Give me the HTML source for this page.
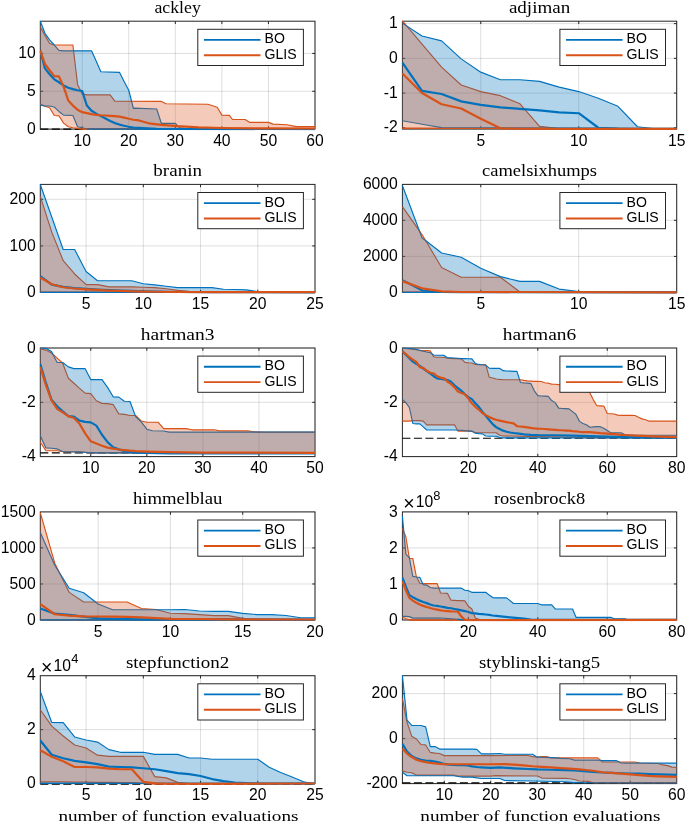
<!DOCTYPE html><html><head><meta charset="utf-8"><title>BO vs GLIS</title>
<style>html,body{margin:0;padding:0;background:#fff}svg{display:block}.t{font-family:"Liberation Sans",sans-serif;font-size:15.7px;fill:#000}.s{font-family:"Liberation Serif",serif;font-size:16.3px;fill:#000}.x{font-family:"Liberation Serif",serif;font-size:14.9px;fill:#000}.l{font-family:"Liberation Sans",sans-serif;font-size:14.1px;fill:#000}</style></head><body>
<svg width="685" height="821" viewBox="0 0 685 821">
<rect width="685" height="821" fill="#fff"/>
<clipPath id="c0"><rect x="39.7" y="20.6" width="275.9" height="109.9"/></clipPath>
<g>
<path d="M82.2 21.2V129.1M128.76 21.2V129.1M175.32 21.2V129.1M221.88 21.2V129.1M268.44 21.2V129.1M315 21.2V129.1M40.3 129.1H315M40.3 91.27H315M40.3 53.43H315" stroke="#000" stroke-opacity="0.13" stroke-width="1" fill="none"/>
<path d="M82.2 129.1v-2.8M82.2 21.2v2.8M128.76 129.1v-2.8M128.76 21.2v2.8M175.32 129.1v-2.8M175.32 21.2v2.8M221.88 129.1v-2.8M221.88 21.2v2.8M268.44 129.1v-2.8M268.44 21.2v2.8M40.3 91.27h2.8M315 91.27h-2.8M40.3 53.43h2.8M315 53.43h-2.8" stroke="#262626" stroke-width="1" fill="none"/>
<rect x="40.3" y="21.2" width="274.7" height="107.9" fill="none" stroke="#262626" stroke-width="1"/>
<g clip-path="url(#c0)">
<path d="M40.3 129.1H315" stroke="#000" stroke-width="1.2" stroke-dasharray="8 3.5" fill="none"/>
<path d="M40.3 26.76 L44.96 35.52 L49.61 43.55 L54.27 45.01 L72.89 45.01 L77.55 84.42 L82.2 93.91 L86.86 94.93 L110.14 94.93 L114.79 101.21 L161.35 101.4 L166.01 103.7 L207.91 104.3 L217.23 107.2 L221.88 115.1 L229.33 115.4 L232.59 119.5 L245.16 119.5 L249.82 122.4 L268.44 122.4 L273.1 124.1 L287.06 124.7 L296.38 126.6 L315 126.6" fill="none" stroke="#D95319" stroke-width="1.15" stroke-linejoin="round"/>
<path d="M40.3 104.13 L44.96 106.32 L49.61 107.78 L54.27 115.52 L58.92 115.81 L63.58 123.11 L68.24 126.76 L72.89 127.78 L77.55 128.36 L82.2 128.95 L86.86 129.1 L315 129.1" fill="none" stroke="#D95319" stroke-width="1.15" stroke-linejoin="round"/>
<path d="M40.3 21.21 L44.96 33.33 L49.61 39.9 L54.27 45.01 L58.92 50.41 L63.58 50.85 L91.52 50.85 L96.17 61.07 L100.83 71.72 L119.45 72.31 L124.11 81.5 L128.76 90.26 L133.42 108.51 L134.82 108.1 L156.7 109 L161.35 123.3 L175.32 123.3 L179.98 127.8 L189.29 129.1 L315 129.1" fill="none" stroke="#0072BD" stroke-width="1.15" stroke-linejoin="round"/>
<path d="M40.3 105.15 L44.96 106.03 L49.61 106.03 L54.27 107.05 L58.92 111.43 L63.58 115.08 L72.89 115.52 L77.55 126.76 L82.2 127.78 L86.86 128.95 L91.52 129.1 L315 129.1" fill="none" stroke="#0072BD" stroke-width="1.15" stroke-linejoin="round"/>
<path d="M40.3 21.21 L44.96 33.33 L49.61 39.9 L54.27 45.01 L58.92 50.41 L63.58 50.85 L91.52 50.85 L96.17 61.07 L100.83 71.72 L119.45 72.31 L124.11 81.5 L128.76 90.26 L133.42 108.51 L134.82 108.1 L156.7 109 L161.35 123.3 L175.32 123.3 L179.98 127.8 L189.29 129.1 L315 129.1 L315 129.1 L91.52 129.1 L86.86 128.95 L82.2 127.78 L77.55 126.76 L72.89 115.52 L63.58 115.08 L58.92 111.43 L54.27 107.05 L49.61 106.03 L44.96 106.03 L40.3 105.15Z" fill="#0072BD" fill-opacity="0.3" stroke="none"/>
<path d="M40.3 26.76 L44.96 35.52 L49.61 43.55 L54.27 45.01 L72.89 45.01 L77.55 84.42 L82.2 93.91 L86.86 94.93 L110.14 94.93 L114.79 101.21 L161.35 101.4 L166.01 103.7 L207.91 104.3 L217.23 107.2 L221.88 115.1 L229.33 115.4 L232.59 119.5 L245.16 119.5 L249.82 122.4 L268.44 122.4 L273.1 124.1 L287.06 124.7 L296.38 126.6 L315 126.6 L315 129.1 L86.86 129.1 L82.2 128.95 L77.55 128.36 L72.89 127.78 L68.24 126.76 L63.58 123.11 L58.92 115.81 L54.27 115.52 L49.61 107.78 L44.96 106.32 L40.3 104.13Z" fill="#D95319" fill-opacity="0.3" stroke="none"/>
<path d="M77.55 128.36 L82.2 128.95 L86.86 129.1 L315 129.1" fill="none" stroke="#D95319" stroke-width="1.15"/>
<path d="M86.86 128.95 L91.52 129.1 L315 129.1" fill="none" stroke="#0072BD" stroke-width="1.15"/>
<path d="M189.29 129.1 L315 129.1" fill="none" stroke="#0072BD" stroke-width="1.15"/>
<path d="M40.3 50.85 L44.96 68.36 L49.61 74.2 L54.27 79.31 L58.92 82.23 L63.58 85.45 L68.24 87.78 L72.89 89.09 L77.55 90.26 L82.2 90.99 L86.86 105.59 L91.52 110.7 L96.17 113.62 L100.83 116.1 L105.48 118.44 L110.14 120.92 L114.79 123.11 L119.45 124.57 L124.11 125.74 L128.76 126.76 L133.42 127.49 L138.07 127.78 L147.39 128.4 L156.7 128.9 L315 129.1" fill="none" stroke="#0072BD" stroke-width="2.2" stroke-linejoin="round"/>
<path d="M40.3 50.85 L44.96 63.99 L49.61 70.26 L54.27 76.1 L58.92 76.39 L63.58 86.61 L68.24 100.48 L72.89 105.59 L77.55 109.68 L82.2 112.16 L86.86 113.18 L91.52 114.06 L96.17 114.79 L100.83 115.23 L105.48 115.52 L110.14 115.81 L114.79 116.1 L119.45 116.69 L124.11 117.56 L128.76 118.73 L133.42 119.75 L138.07 120.19 L148.78 123.3 L161.35 124.8 L177.65 126.2 L198.6 127.3 L221.88 128 L268.44 128.4 L315 128.5" fill="none" stroke="#D95319" stroke-width="2.2" stroke-linejoin="round"/>
</g>
<text class="t" x="82.2" y="145.8" text-anchor="middle">10</text>
<text class="t" x="128.76" y="145.8" text-anchor="middle">20</text>
<text class="t" x="175.32" y="145.8" text-anchor="middle">30</text>
<text class="t" x="221.88" y="145.8" text-anchor="middle">40</text>
<text class="t" x="268.44" y="145.8" text-anchor="middle">50</text>
<text class="t" x="315" y="145.8" text-anchor="middle">60</text>
<text class="t" x="35.7" y="133.7" text-anchor="end">0</text>
<text class="t" x="35.7" y="95.87" text-anchor="end">5</text>
<text class="t" x="35.7" y="58.03" text-anchor="end">10</text>
<text class="s" x="177.65" y="13.1" text-anchor="middle" textLength="46.4" lengthAdjust="spacingAndGlyphs">ackley</text>
<rect x="197.8" y="29.3" width="105.6" height="36.2" fill="#fff" stroke="#262626" stroke-width="1"/>
<path d="M203.9 39.9h56.6" stroke="#0072BD" stroke-width="1.9" fill="none"/>
<path d="M203.9 55.3h56.6" stroke="#D95319" stroke-width="1.9" fill="none"/>
<text class="l" x="264.5" y="43.3">BO</text>
<text class="l" x="264.5" y="58.7">GLIS</text>
</g>
<clipPath id="c1"><rect x="401.8" y="20.6" width="275.5" height="109.9"/></clipPath>
<g>
<path d="M480.77 21.2V129.1M578.74 21.2V129.1M676.7 21.2V129.1M402.4 127.82H676.7M402.4 93.09H676.7M402.4 58.36H676.7M402.4 23.63H676.7" stroke="#000" stroke-opacity="0.13" stroke-width="1" fill="none"/>
<path d="M480.77 129.1v-2.8M480.77 21.2v2.8M578.74 129.1v-2.8M578.74 21.2v2.8M402.4 127.82h2.8M676.7 127.82h-2.8M402.4 93.09h2.8M676.7 93.09h-2.8M402.4 58.36h2.8M676.7 58.36h-2.8M402.4 23.63h2.8M676.7 23.63h-2.8" stroke="#262626" stroke-width="1" fill="none"/>
<rect x="402.4" y="21.2" width="274.3" height="107.9" fill="none" stroke="#262626" stroke-width="1"/>
<g clip-path="url(#c1)">
<path d="M402.4 128.51H676.7" stroke="#000" stroke-width="1.2" stroke-dasharray="8 3.5" fill="none"/>
<path d="M402.4 20.86 L421.99 44.16 L441.59 67.05 L461.18 85.04 L480.77 91.58 L500.36 95.66 L519.96 103.84 L539.55 126.32 L559.14 128.57 L578.74 128.98 L676.7 129" fill="none" stroke="#D95319" stroke-width="1.15" stroke-linejoin="round"/>
<path d="M402.4 128.4 L676.7 128.6" fill="none" stroke="#D95319" stroke-width="1.15" stroke-linejoin="round"/>
<path d="M402.4 23.11 L421.99 35.99 L441.59 40.89 L461.18 58.88 L480.77 72.16 L500.36 79.72 L519.96 79.72 L539.55 81.36 L559.14 87.08 L578.74 91.58 L598.33 98.32 L617.92 106.29 L637.51 126.73 L657.11 128.98 L676.7 128.98" fill="none" stroke="#0072BD" stroke-width="1.15" stroke-linejoin="round"/>
<path d="M402.4 120.8 L421.99 124.2 L441.59 127.6 L461.18 127.8 L598.33 128 L637.51 128.6 L676.7 128.7" fill="none" stroke="#0072BD" stroke-width="1.15" stroke-linejoin="round"/>
<path d="M402.4 23.11 L421.99 35.99 L441.59 40.89 L461.18 58.88 L480.77 72.16 L500.36 79.72 L519.96 79.72 L539.55 81.36 L559.14 87.08 L578.74 91.58 L598.33 98.32 L617.92 106.29 L637.51 126.73 L657.11 128.98 L676.7 128.98 L676.7 128.7 L637.51 128.6 L598.33 128 L461.18 127.8 L441.59 127.6 L421.99 124.2 L402.4 120.8Z" fill="#0072BD" fill-opacity="0.3" stroke="none"/>
<path d="M402.4 20.86 L421.99 44.16 L441.59 67.05 L461.18 85.04 L480.77 91.58 L500.36 95.66 L519.96 103.84 L539.55 126.32 L559.14 128.57 L578.74 128.98 L676.7 129 L676.7 128.6 L402.4 128.4Z" fill="#D95319" fill-opacity="0.3" stroke="none"/>
<path d="M402.4 128.4 L676.7 128.6" fill="none" stroke="#D95319" stroke-width="1.15"/>
<path d="M559.14 128.57 L578.74 128.98 L676.7 129" fill="none" stroke="#D95319" stroke-width="1.15"/>
<path d="M637.51 128.6 L676.7 128.7" fill="none" stroke="#0072BD" stroke-width="1.15"/>
<path d="M657.11 128.98 L676.7 128.98" fill="none" stroke="#0072BD" stroke-width="1.15"/>
<path d="M402.4 62.55 L421.99 90.96 L441.59 94.03 L461.18 101.39 L480.77 104.86 L500.36 107.31 L519.96 108.95 L539.55 110.38 L559.14 112.42 L578.74 113.24 L598.33 127.75 L617.92 128.57 L637.51 128.77 L657.11 128.77 L676.7 128.77" fill="none" stroke="#0072BD" stroke-width="2.2" stroke-linejoin="round"/>
<path d="M402.4 73.59 L421.99 93.01 L441.59 104.25 L461.18 108.54 L480.77 118.76 L500.36 128.36 L519.96 128.77 L676.7 128.9" fill="none" stroke="#D95319" stroke-width="2.2" stroke-linejoin="round"/>
</g>
<text class="t" x="480.77" y="145.8" text-anchor="middle">5</text>
<text class="t" x="578.74" y="145.8" text-anchor="middle">10</text>
<text class="t" x="676.7" y="145.8" text-anchor="middle">15</text>
<text class="t" x="397.8" y="132.42" text-anchor="end">-2</text>
<text class="t" x="397.8" y="97.69" text-anchor="end">-1</text>
<text class="t" x="397.8" y="62.96" text-anchor="end">0</text>
<text class="t" x="397.8" y="28.23" text-anchor="end">1</text>
<text class="s" x="539.55" y="13.1" text-anchor="middle" textLength="61.3" lengthAdjust="spacingAndGlyphs">adjiman</text>
<rect x="559.9" y="29.3" width="105.6" height="36.2" fill="#fff" stroke="#262626" stroke-width="1"/>
<path d="M566 39.9h56.6" stroke="#0072BD" stroke-width="1.9" fill="none"/>
<path d="M566 55.3h56.6" stroke="#D95319" stroke-width="1.9" fill="none"/>
<text class="l" x="626.6" y="43.3">BO</text>
<text class="l" x="626.6" y="58.7">GLIS</text>
</g>
<clipPath id="c2"><rect x="39.7" y="183.8" width="275.9" height="110.1"/></clipPath>
<g>
<path d="M86.08 184.4V292.5M143.31 184.4V292.5M200.54 184.4V292.5M257.77 184.4V292.5M315 184.4V292.5M40.3 292.5H315M40.3 245.91H315M40.3 199.31H315" stroke="#000" stroke-opacity="0.13" stroke-width="1" fill="none"/>
<path d="M86.08 292.5v-2.8M86.08 184.4v2.8M143.31 292.5v-2.8M143.31 184.4v2.8M200.54 292.5v-2.8M200.54 184.4v2.8M257.77 292.5v-2.8M257.77 184.4v2.8M40.3 245.91h2.8M315 245.91h-2.8M40.3 199.31h2.8M315 199.31h-2.8" stroke="#262626" stroke-width="1" fill="none"/>
<rect x="40.3" y="184.4" width="274.7" height="108.1" fill="none" stroke="#262626" stroke-width="1"/>
<g clip-path="url(#c2)">
<path d="M40.3 196.33 L51.75 232.09 L63.19 260.71 L74.64 273.99 L86.08 284.62 L97.53 284.62 L108.97 286.87 L120.42 286.87 L131.87 286.87 L143.31 287.28 L154.76 287.69 L166.2 288.71 L177.65 290.34 L189.1 291.36 L200.54 291.98 L223.43 292.3 L315 292.3" fill="none" stroke="#D95319" stroke-width="1.15" stroke-linejoin="round"/>
<path d="M40.3 292.3 L315 292.3" fill="none" stroke="#D95319" stroke-width="1.15" stroke-linejoin="round"/>
<path d="M40.3 184.47 L51.75 216.97 L63.19 249.47 L74.64 249.47 L86.08 271.54 L97.53 280.74 L108.97 280.74 L120.42 280.74 L131.87 280.74 L143.31 283.8 L154.76 284.82 L166.2 286.26 L177.65 287.69 L189.1 287.66 L200.54 287.66 L211.99 287.66 L223.43 289.3 L234.88 289.5 L246.32 289.91 L257.77 291.55 L269.22 292.16 L315 292.3" fill="none" stroke="#0072BD" stroke-width="1.15" stroke-linejoin="round"/>
<path d="M40.3 292.3 L315 292.3" fill="none" stroke="#0072BD" stroke-width="1.15" stroke-linejoin="round"/>
<path d="M40.3 184.47 L51.75 216.97 L63.19 249.47 L74.64 249.47 L86.08 271.54 L97.53 280.74 L108.97 280.74 L120.42 280.74 L131.87 280.74 L143.31 283.8 L154.76 284.82 L166.2 286.26 L177.65 287.69 L189.1 287.66 L200.54 287.66 L211.99 287.66 L223.43 289.3 L234.88 289.5 L246.32 289.91 L257.77 291.55 L269.22 292.16 L315 292.3 L315 292.3 L40.3 292.3Z" fill="#0072BD" fill-opacity="0.3" stroke="none"/>
<path d="M40.3 196.33 L51.75 232.09 L63.19 260.71 L74.64 273.99 L86.08 284.62 L97.53 284.62 L108.97 286.87 L120.42 286.87 L131.87 286.87 L143.31 287.28 L154.76 287.69 L166.2 288.71 L177.65 290.34 L189.1 291.36 L200.54 291.98 L223.43 292.3 L315 292.3 L315 292.3 L40.3 292.3Z" fill="#D95319" fill-opacity="0.3" stroke="none"/>
<path d="M40.3 292.3 L315 292.3" fill="none" stroke="#D95319" stroke-width="1.15"/>
<path d="M200.54 291.98 L223.43 292.3 L315 292.3" fill="none" stroke="#D95319" stroke-width="1.15"/>
<path d="M40.3 292.3 L315 292.3" fill="none" stroke="#0072BD" stroke-width="1.15"/>
<path d="M269.22 292.16 L315 292.3" fill="none" stroke="#0072BD" stroke-width="1.15"/>
<path d="M40.3 276.04 L51.75 284.62 L63.19 286.87 L74.64 288.09 L86.08 288.91 L97.53 289.53 L108.97 290.14 L120.42 290.55 L131.87 290.96 L143.31 291.36 L154.76 291.57 L166.2 291.77 L177.65 291.98 L211.99 292.2 L315 292.3" fill="none" stroke="#0072BD" stroke-width="2.2" stroke-linejoin="round"/>
<path d="M40.3 277.47 L51.75 284.21 L63.19 287.28 L74.64 288.5 L86.08 289.32 L97.53 289.93 L108.97 290.55 L120.42 290.96 L131.87 291.36 L143.31 291.57 L154.76 291.77 L166.2 291.98 L177.65 291.98 L211.99 292.2 L315 292.2" fill="none" stroke="#D95319" stroke-width="2.2" stroke-linejoin="round"/>
</g>
<text class="t" x="86.08" y="309.2" text-anchor="middle">5</text>
<text class="t" x="143.31" y="309.2" text-anchor="middle">10</text>
<text class="t" x="200.54" y="309.2" text-anchor="middle">15</text>
<text class="t" x="257.77" y="309.2" text-anchor="middle">20</text>
<text class="t" x="315" y="309.2" text-anchor="middle">25</text>
<text class="t" x="35.7" y="297.1" text-anchor="end">0</text>
<text class="t" x="35.7" y="250.51" text-anchor="end">100</text>
<text class="t" x="35.7" y="203.91" text-anchor="end">200</text>
<text class="s" x="177.65" y="176.3" text-anchor="middle" textLength="48.6" lengthAdjust="spacingAndGlyphs">branin</text>
<rect x="197.8" y="192.5" width="105.6" height="36.2" fill="#fff" stroke="#262626" stroke-width="1"/>
<path d="M203.9 203.1h56.6" stroke="#0072BD" stroke-width="1.9" fill="none"/>
<path d="M203.9 218.5h56.6" stroke="#D95319" stroke-width="1.9" fill="none"/>
<text class="l" x="264.5" y="206.5">BO</text>
<text class="l" x="264.5" y="221.9">GLIS</text>
</g>
<clipPath id="c3"><rect x="401.8" y="183.8" width="275.5" height="110.1"/></clipPath>
<g>
<path d="M480.77 184.4V292.5M578.74 184.4V292.5M676.7 184.4V292.5M402.4 292.5H676.7M402.4 256.41H676.7M402.4 220.31H676.7M402.4 184.22H676.7" stroke="#000" stroke-opacity="0.13" stroke-width="1" fill="none"/>
<path d="M480.77 292.5v-2.8M480.77 184.4v2.8M578.74 292.5v-2.8M578.74 184.4v2.8M402.4 256.41h2.8M676.7 256.41h-2.8M402.4 220.31h2.8M676.7 220.31h-2.8" stroke="#262626" stroke-width="1" fill="none"/>
<rect x="402.4" y="184.4" width="274.3" height="108.1" fill="none" stroke="#262626" stroke-width="1"/>
<g clip-path="url(#c3)">
<path d="M402.4 206.55 L421.99 234.55 L441.59 267.45 L461.18 277.26 L480.77 277.26 L500.36 277.26 L519.96 291.98 L676.7 292.4" fill="none" stroke="#D95319" stroke-width="1.15" stroke-linejoin="round"/>
<path d="M402.4 292.4 L676.7 292.4" fill="none" stroke="#D95319" stroke-width="1.15" stroke-linejoin="round"/>
<path d="M402.4 185.5 L421.99 237.82 L441.59 252.94 L461.18 257.23 L480.77 268.27 L500.36 276.65 L519.96 281.35 L539.55 281.35 L559.14 289.09 L578.74 291.55 L598.33 292.16 L676.7 292.4" fill="none" stroke="#0072BD" stroke-width="1.15" stroke-linejoin="round"/>
<path d="M402.4 292.4 L676.7 292.4" fill="none" stroke="#0072BD" stroke-width="1.15" stroke-linejoin="round"/>
<path d="M402.4 185.5 L421.99 237.82 L441.59 252.94 L461.18 257.23 L480.77 268.27 L500.36 276.65 L519.96 281.35 L539.55 281.35 L559.14 289.09 L578.74 291.55 L598.33 292.16 L676.7 292.4 L676.7 292.4 L402.4 292.4Z" fill="#0072BD" fill-opacity="0.3" stroke="none"/>
<path d="M402.4 206.55 L421.99 234.55 L441.59 267.45 L461.18 277.26 L480.77 277.26 L500.36 277.26 L519.96 291.98 L676.7 292.4 L676.7 292.4 L402.4 292.4Z" fill="#D95319" fill-opacity="0.3" stroke="none"/>
<path d="M402.4 292.4 L676.7 292.4" fill="none" stroke="#D95319" stroke-width="1.15"/>
<path d="M519.96 291.98 L676.7 292.4" fill="none" stroke="#D95319" stroke-width="1.15"/>
<path d="M402.4 292.4 L676.7 292.4" fill="none" stroke="#0072BD" stroke-width="1.15"/>
<path d="M598.33 292.16 L676.7 292.4" fill="none" stroke="#0072BD" stroke-width="1.15"/>
<path d="M402.4 280.12 L421.99 290.34 L441.59 291.98 L461.18 292.18 L676.7 292.4" fill="none" stroke="#0072BD" stroke-width="2.2" stroke-linejoin="round"/>
<path d="M402.4 281.15 L421.99 288.3 L441.59 291.36 L461.18 291.98 L480.77 291.98 L676.7 292.3" fill="none" stroke="#D95319" stroke-width="2.2" stroke-linejoin="round"/>
</g>
<text class="t" x="480.77" y="309.2" text-anchor="middle">5</text>
<text class="t" x="578.74" y="309.2" text-anchor="middle">10</text>
<text class="t" x="676.7" y="309.2" text-anchor="middle">15</text>
<text class="t" x="397.8" y="297.1" text-anchor="end">0</text>
<text class="t" x="397.8" y="261.01" text-anchor="end">2000</text>
<text class="t" x="397.8" y="224.91" text-anchor="end">4000</text>
<text class="t" x="397.8" y="188.82" text-anchor="end">6000</text>
<text class="s" x="539.55" y="176.3" text-anchor="middle" textLength="115" lengthAdjust="spacingAndGlyphs">camelsixhumps</text>
<rect x="559.9" y="192.5" width="105.6" height="36.2" fill="#fff" stroke="#262626" stroke-width="1"/>
<path d="M566 203.1h56.6" stroke="#0072BD" stroke-width="1.9" fill="none"/>
<path d="M566 218.5h56.6" stroke="#D95319" stroke-width="1.9" fill="none"/>
<text class="l" x="626.6" y="206.5">BO</text>
<text class="l" x="626.6" y="221.9">GLIS</text>
</g>
<clipPath id="c4"><rect x="39.7" y="347.4" width="275.9" height="110.6"/></clipPath>
<g>
<path d="M90.76 348V456.6M146.82 348V456.6M202.88 348V456.6M258.94 348V456.6M315 348V456.6M40.3 456.6H315M40.3 402.3H315M40.3 348H315" stroke="#000" stroke-opacity="0.13" stroke-width="1" fill="none"/>
<path d="M90.76 456.6v-2.8M90.76 348v2.8M146.82 456.6v-2.8M146.82 348v2.8M202.88 456.6v-2.8M202.88 348v2.8M258.94 456.6v-2.8M258.94 348v2.8M40.3 402.3h2.8M315 402.3h-2.8" stroke="#262626" stroke-width="1" fill="none"/>
<rect x="40.3" y="348" width="274.7" height="108.6" fill="none" stroke="#262626" stroke-width="1"/>
<g clip-path="url(#c4)">
<path d="M40.3 452.91H315" stroke="#000" stroke-width="1.2" stroke-dasharray="8 3.5" fill="none"/>
<path d="M40.3 348.65 L45.91 350.11 L51.51 353.03 L57.12 358.14 L62.72 363.25 L68.33 378.28 L73.94 383.25 L79.54 388.36 L85.15 393.18 L90.76 393.61 L96.36 400.77 L101.97 403.39 L107.57 403.69 L113.18 404.56 L118.79 413.91 L124.39 414.34 L130 415.51 L135.6 415.51 L141.21 421 L146.82 422.2 L158.03 422.2 L163.63 428.6 L186.06 428.6 L191.67 429.8 L214.09 429.8 L219.7 430.9 L247.73 430.9 L253.33 431.8 L264.54 432.1 L315 432.1" fill="none" stroke="#D95319" stroke-width="1.15" stroke-linejoin="round"/>
<path d="M40.3 442.3 L45.91 450.7 L51.51 450.7 L57.12 450.8 L62.72 451.8 L79.54 452 L90.76 452.8 L315 452.9" fill="none" stroke="#D95319" stroke-width="1.15" stroke-linejoin="round"/>
<path d="M40.3 347.92 L45.91 348.21 L51.51 351.57 L57.12 362.52 L62.72 362.52 L68.33 366.9 L73.94 368.65 L79.54 368.65 L85.15 368.65 L90.76 379.6 L96.36 379.6 L101.97 379.6 L107.57 387.34 L113.18 396.82 L118.79 397.12 L124.39 401.2 L130 401.5 L135.6 416.53 L141.21 421.9 L146.82 429.2 L152.42 430.7 L163.63 431 L169.24 432.1 L315 432.1" fill="none" stroke="#0072BD" stroke-width="1.15" stroke-linejoin="round"/>
<path d="M40.3 435.8 L45.91 447.9 L51.51 448.2 L57.12 448.9 L62.72 451.5 L68.33 451.7 L79.54 451.9 L90.76 452.8 L315 452.9" fill="none" stroke="#0072BD" stroke-width="1.15" stroke-linejoin="round"/>
<path d="M40.3 347.92 L45.91 348.21 L51.51 351.57 L57.12 362.52 L62.72 362.52 L68.33 366.9 L73.94 368.65 L79.54 368.65 L85.15 368.65 L90.76 379.6 L96.36 379.6 L101.97 379.6 L107.57 387.34 L113.18 396.82 L118.79 397.12 L124.39 401.2 L130 401.5 L135.6 416.53 L141.21 421.9 L146.82 429.2 L152.42 430.7 L163.63 431 L169.24 432.1 L315 432.1 L315 452.9 L90.76 452.8 L79.54 451.9 L68.33 451.7 L62.72 451.5 L57.12 448.9 L51.51 448.2 L45.91 447.9 L40.3 435.8Z" fill="#0072BD" fill-opacity="0.3" stroke="none"/>
<path d="M40.3 348.65 L45.91 350.11 L51.51 353.03 L57.12 358.14 L62.72 363.25 L68.33 378.28 L73.94 383.25 L79.54 388.36 L85.15 393.18 L90.76 393.61 L96.36 400.77 L101.97 403.39 L107.57 403.69 L113.18 404.56 L118.79 413.91 L124.39 414.34 L130 415.51 L135.6 415.51 L141.21 421 L146.82 422.2 L158.03 422.2 L163.63 428.6 L186.06 428.6 L191.67 429.8 L214.09 429.8 L219.7 430.9 L247.73 430.9 L253.33 431.8 L264.54 432.1 L315 432.1 L315 452.9 L90.76 452.8 L79.54 452 L62.72 451.8 L57.12 450.8 L51.51 450.7 L45.91 450.7 L40.3 442.3Z" fill="#D95319" fill-opacity="0.3" stroke="none"/>
<path d="M40.3 363.98 L45.91 382.96 L51.51 399.74 L57.12 406.31 L62.72 411.42 L68.33 416.09 L73.94 416.53 L79.54 420.62 L85.15 421.93 L90.76 422.37 L96.36 425.58 L101.97 434.78 L107.57 442.08 L113.18 447.19 L118.79 449.38 L124.39 451.13 L130 451.86 L135.6 452.59 L146.82 453 L169.24 453.3 L315 453.4" fill="none" stroke="#0072BD" stroke-width="2.2" stroke-linejoin="round"/>
<path d="M40.3 366.9 L45.91 385.15 L51.51 400.47 L57.12 408.8 L62.72 412.45 L68.33 416.09 L73.94 417.99 L79.54 423.83 L85.15 433.32 L90.76 441.35 L96.36 443.54 L101.97 445.73 L107.57 447.63 L113.18 448.65 L118.79 449.53 L124.39 450.11 L130 450.69 L135.6 451.13 L146.82 451.6 L169.24 452.2 L202.88 452.6 L315 452.8" fill="none" stroke="#D95319" stroke-width="2.2" stroke-linejoin="round"/>
</g>
<text class="t" x="90.76" y="473.3" text-anchor="middle">10</text>
<text class="t" x="146.82" y="473.3" text-anchor="middle">20</text>
<text class="t" x="202.88" y="473.3" text-anchor="middle">30</text>
<text class="t" x="258.94" y="473.3" text-anchor="middle">40</text>
<text class="t" x="315" y="473.3" text-anchor="middle">50</text>
<text class="t" x="35.7" y="461.2" text-anchor="end">-4</text>
<text class="t" x="35.7" y="406.9" text-anchor="end">-2</text>
<text class="t" x="35.7" y="352.6" text-anchor="end">0</text>
<text class="s" x="177.65" y="339.9" text-anchor="middle" textLength="73.6" lengthAdjust="spacingAndGlyphs">hartman3</text>
<rect x="197.8" y="356.1" width="105.6" height="36.2" fill="#fff" stroke="#262626" stroke-width="1"/>
<path d="M203.9 366.7h56.6" stroke="#0072BD" stroke-width="1.9" fill="none"/>
<path d="M203.9 382.1h56.6" stroke="#D95319" stroke-width="1.9" fill="none"/>
<text class="l" x="264.5" y="370.1">BO</text>
<text class="l" x="264.5" y="385.5">GLIS</text>
</g>
<clipPath id="c5"><rect x="401.8" y="347.4" width="275.5" height="110.6"/></clipPath>
<g>
<path d="M468.37 348V456.6M537.81 348V456.6M607.26 348V456.6M676.7 348V456.6M402.4 456.6H676.7M402.4 402.3H676.7M402.4 348H676.7" stroke="#000" stroke-opacity="0.13" stroke-width="1" fill="none"/>
<path d="M468.37 456.6v-2.8M468.37 348v2.8M537.81 456.6v-2.8M537.81 348v2.8M607.26 456.6v-2.8M607.26 348v2.8M402.4 402.3h2.8M676.7 402.3h-2.8" stroke="#262626" stroke-width="1" fill="none"/>
<rect x="402.4" y="348" width="274.3" height="108.6" fill="none" stroke="#262626" stroke-width="1"/>
<g clip-path="url(#c5)">
<path d="M402.4 438.27H676.7" stroke="#000" stroke-width="1.2" stroke-dasharray="8 3.5" fill="none"/>
<path d="M402.4 348.05 L405.87 348.47 L409.34 348.89 L412.82 349.17 L416.29 349.58 L419.76 350.55 L423.23 350.55 L426.71 350.55 L430.18 350.83 L433.65 356.8 L437.12 357.22 L440.59 357.22 L444.07 357.5 L447.54 358.19 L451.01 358.47 L454.48 358.61 L457.95 358.61 L461.43 358.89 L464.9 362.36 L468.37 362.77 L471.84 363.05 L475.32 364.44 L478.79 364.72 L482.26 364.72 L485.73 364.72 L489.2 377.21 L492.68 378.05 L496.15 379.02 L499.62 379.44 L503.09 379.71 L506.56 379.71 L510.04 379.71 L513.51 379.71 L516.98 379.71 L520.45 379.71 L523.93 380.41 L527.4 380.82 L530.87 381.1 L534.34 381.38 L537.81 381.38 L541.29 381.52 L544.76 382.77 L548.23 383.19 L551.7 384.16 L555.17 384.3 L558.65 384.57 L582.95 384.85 L586.42 385.55 L589.9 392.9 L593.37 399.85 L596.84 405.68 L600.31 405.82 L603.78 406.1 L607.26 413.46 L610.73 413.73 L614.2 414.01 L617.67 415.12 L621.15 415.4 L624.62 415.4 L628.09 415.4 L631.56 415.4 L635.03 415.54 L638.51 417.2 L641.98 418.87 L645.45 419.7 L648.92 421.09 L676.7 421.09" fill="none" stroke="#D95319" stroke-width="1.15" stroke-linejoin="round"/>
<path d="M402.4 421.09 L405.87 421.09 L409.34 421.09 L412.82 420.68 L416.29 420.68 L419.76 420.68 L423.23 421.09 L426.71 424.84 L430.18 424.84 L433.65 424.84 L437.12 424.84 L440.59 424.84 L444.07 424.84 L447.54 424.84 L451.01 424.84 L454.48 424.84 L457.95 431.09 L461.43 431.09 L464.9 431.09 L468.37 431.09 L471.84 431.37 L475.32 432.48 L478.79 432.76 L482.26 432.76 L485.73 432.76 L489.2 432.76 L492.68 432.76 L496.15 432.76 L499.62 435.26 L503.09 435.95 L537.81 436.64 L555.17 436.92 L572.54 437.34 L589.9 437.62 L676.7 437.89" fill="none" stroke="#D95319" stroke-width="1.15" stroke-linejoin="round"/>
<path d="M402.4 348.05 L405.87 348.05 L409.34 348.47 L412.82 348.89 L416.29 349.44 L419.76 350.28 L423.23 351.25 L426.71 351.94 L430.18 352.64 L433.65 355 L437.12 355.28 L440.59 355.28 L444.07 355.41 L447.54 357.77 L451.01 357.91 L454.48 358.05 L457.95 358.33 L461.43 358.61 L464.9 358.61 L468.37 358.75 L471.84 358.89 L475.32 363.47 L478.79 364.44 L482.26 364.72 L485.73 365.13 L489.2 368.19 L492.68 368.33 L496.15 368.33 L499.62 368.33 L503.09 370.69 L506.56 370.97 L510.04 371.1 L513.51 371.38 L516.98 371.38 L520.45 382.49 L523.93 382.91 L527.4 383.19 L530.87 383.6 L534.34 390.82 L537.81 395.68 L541.29 395.96 L544.76 396.1 L548.23 396.38 L551.7 400.54 L555.17 402.62 L558.65 408.18 L562.12 408.46 L565.59 408.6 L569.06 408.87 L572.54 411.65 L576.01 414.43 L579.48 421.37 L582.95 423.45 L586.42 424.84 L589.9 427.2 L593.37 426.92 L596.84 426.65 L600.31 426.65 L603.78 428.31 L607.26 430.4 L610.73 432.76 L614.2 432.76 L617.67 432.76 L621.15 432.76 L624.62 434.56 L628.09 434.98 L631.56 435.12 L635.03 435.26 L676.7 435.26" fill="none" stroke="#0072BD" stroke-width="1.15" stroke-linejoin="round"/>
<path d="M402.4 399.43 L405.87 402.62 L409.34 407.48 L412.82 423.45 L416.29 423.87 L419.76 423.87 L423.23 426.92 L426.71 429.98 L430.18 429.98 L433.65 429.98 L437.12 429.98 L440.59 429.98 L444.07 429.98 L447.54 429.98 L451.01 429.98 L454.48 429.98 L457.95 430.26 L461.43 430.4 L464.9 430.67 L468.37 430.81 L471.84 431.09 L475.32 433.17 L478.79 433.59 L482.26 433.87 L485.73 435.95 L489.2 436.23 L492.68 436.23 L496.15 436.23 L499.62 437.48 L503.09 437.89 L676.7 438.03" fill="none" stroke="#0072BD" stroke-width="1.15" stroke-linejoin="round"/>
<path d="M402.4 348.05 L405.87 348.05 L409.34 348.47 L412.82 348.89 L416.29 349.44 L419.76 350.28 L423.23 351.25 L426.71 351.94 L430.18 352.64 L433.65 355 L437.12 355.28 L440.59 355.28 L444.07 355.41 L447.54 357.77 L451.01 357.91 L454.48 358.05 L457.95 358.33 L461.43 358.61 L464.9 358.61 L468.37 358.75 L471.84 358.89 L475.32 363.47 L478.79 364.44 L482.26 364.72 L485.73 365.13 L489.2 368.19 L492.68 368.33 L496.15 368.33 L499.62 368.33 L503.09 370.69 L506.56 370.97 L510.04 371.1 L513.51 371.38 L516.98 371.38 L520.45 382.49 L523.93 382.91 L527.4 383.19 L530.87 383.6 L534.34 390.82 L537.81 395.68 L541.29 395.96 L544.76 396.1 L548.23 396.38 L551.7 400.54 L555.17 402.62 L558.65 408.18 L562.12 408.46 L565.59 408.6 L569.06 408.87 L572.54 411.65 L576.01 414.43 L579.48 421.37 L582.95 423.45 L586.42 424.84 L589.9 427.2 L593.37 426.92 L596.84 426.65 L600.31 426.65 L603.78 428.31 L607.26 430.4 L610.73 432.76 L614.2 432.76 L617.67 432.76 L621.15 432.76 L624.62 434.56 L628.09 434.98 L631.56 435.12 L635.03 435.26 L676.7 435.26 L676.7 438.03 L503.09 437.89 L499.62 437.48 L496.15 436.23 L492.68 436.23 L489.2 436.23 L485.73 435.95 L482.26 433.87 L478.79 433.59 L475.32 433.17 L471.84 431.09 L468.37 430.81 L464.9 430.67 L461.43 430.4 L457.95 430.26 L454.48 429.98 L451.01 429.98 L447.54 429.98 L444.07 429.98 L440.59 429.98 L437.12 429.98 L433.65 429.98 L430.18 429.98 L426.71 429.98 L423.23 426.92 L419.76 423.87 L416.29 423.87 L412.82 423.45 L409.34 407.48 L405.87 402.62 L402.4 399.43Z" fill="#0072BD" fill-opacity="0.3" stroke="none"/>
<path d="M402.4 348.05 L405.87 348.47 L409.34 348.89 L412.82 349.17 L416.29 349.58 L419.76 350.55 L423.23 350.55 L426.71 350.55 L430.18 350.83 L433.65 356.8 L437.12 357.22 L440.59 357.22 L444.07 357.5 L447.54 358.19 L451.01 358.47 L454.48 358.61 L457.95 358.61 L461.43 358.89 L464.9 362.36 L468.37 362.77 L471.84 363.05 L475.32 364.44 L478.79 364.72 L482.26 364.72 L485.73 364.72 L489.2 377.21 L492.68 378.05 L496.15 379.02 L499.62 379.44 L503.09 379.71 L506.56 379.71 L510.04 379.71 L513.51 379.71 L516.98 379.71 L520.45 379.71 L523.93 380.41 L527.4 380.82 L530.87 381.1 L534.34 381.38 L537.81 381.38 L541.29 381.52 L544.76 382.77 L548.23 383.19 L551.7 384.16 L555.17 384.3 L558.65 384.57 L582.95 384.85 L586.42 385.55 L589.9 392.9 L593.37 399.85 L596.84 405.68 L600.31 405.82 L603.78 406.1 L607.26 413.46 L610.73 413.73 L614.2 414.01 L617.67 415.12 L621.15 415.4 L624.62 415.4 L628.09 415.4 L631.56 415.4 L635.03 415.54 L638.51 417.2 L641.98 418.87 L645.45 419.7 L648.92 421.09 L676.7 421.09 L676.7 437.89 L589.9 437.62 L572.54 437.34 L555.17 436.92 L537.81 436.64 L503.09 435.95 L499.62 435.26 L496.15 432.76 L492.68 432.76 L489.2 432.76 L485.73 432.76 L482.26 432.76 L478.79 432.76 L475.32 432.48 L471.84 431.37 L468.37 431.09 L464.9 431.09 L461.43 431.09 L457.95 431.09 L454.48 424.84 L451.01 424.84 L447.54 424.84 L444.07 424.84 L440.59 424.84 L437.12 424.84 L433.65 424.84 L430.18 424.84 L426.71 424.84 L423.23 421.09 L419.76 420.68 L416.29 420.68 L412.82 420.68 L409.34 421.09 L405.87 421.09 L402.4 421.09Z" fill="#D95319" fill-opacity="0.3" stroke="none"/>
<path d="M402.4 351.25 L405.87 354.72 L409.34 358.19 L412.82 361.66 L416.29 363.75 L419.76 365.83 L423.23 368.61 L426.71 371.1 L430.18 373.47 L433.65 376.24 L437.12 378.33 L440.59 379.02 L444.07 379.44 L447.54 379.99 L451.01 381.8 L454.48 385.27 L457.95 388.05 L461.43 390.82 L464.9 394.29 L468.37 397.07 L471.84 399.15 L475.32 403.32 L478.79 406.79 L482.26 411.65 L485.73 415.82 L489.2 419.98 L492.68 424.15 L496.15 427.2 L499.62 429.01 L503.09 430.67 L506.56 431.78 L510.04 432.48 L513.51 433.03 L516.98 433.45 L520.45 433.87 L523.93 434.28 L527.4 434.56 L530.87 434.84 L534.34 434.98 L537.81 435.12 L555.17 435.26 L572.54 435.53 L589.9 436.09 L607.26 436.64 L624.62 437.06 L641.98 437.34 L676.7 437.62" fill="none" stroke="#0072BD" stroke-width="2.2" stroke-linejoin="round"/>
<path d="M402.4 351.25 L405.87 354.03 L409.34 357.22 L412.82 359.58 L416.29 361.94 L419.76 367.22 L423.23 367.91 L426.71 370.69 L430.18 372.77 L433.65 373.47 L437.12 376.24 L440.59 377.63 L444.07 378.33 L447.54 381.8 L451.01 383.88 L454.48 387.35 L457.95 391.52 L461.43 392.9 L464.9 394.29 L468.37 398.46 L471.84 403.32 L475.32 406.79 L478.79 409.57 L482.26 413.04 L485.73 415.12 L489.2 416.93 L492.68 418.59 L496.15 419.7 L499.62 420.68 L503.09 421.37 L506.56 422.06 L510.04 422.76 L513.51 423.45 L516.98 426.23 L520.45 426.51 L523.93 426.92 L527.4 427.34 L530.87 427.9 L534.34 428.31 L537.81 428.59 L541.29 428.73 L544.76 429.01 L548.23 429.29 L551.7 429.56 L555.17 429.84 L558.65 430.12 L562.12 430.26 L565.59 430.53 L569.06 430.67 L572.54 431.09 L576.01 431.37 L579.48 431.78 L582.95 432.06 L586.42 432.2 L589.9 432.2 L600.31 433.17 L607.26 433.59 L614.2 434.14 L621.15 434.84 L628.09 435.26 L641.98 435.95 L659.34 436.64 L676.7 437.06" fill="none" stroke="#D95319" stroke-width="2.2" stroke-linejoin="round"/>
</g>
<text class="t" x="468.37" y="473.3" text-anchor="middle">20</text>
<text class="t" x="537.81" y="473.3" text-anchor="middle">40</text>
<text class="t" x="607.26" y="473.3" text-anchor="middle">60</text>
<text class="t" x="676.7" y="473.3" text-anchor="middle">80</text>
<text class="t" x="397.8" y="461.2" text-anchor="end">-4</text>
<text class="t" x="397.8" y="406.9" text-anchor="end">-2</text>
<text class="t" x="397.8" y="352.6" text-anchor="end">0</text>
<text class="s" x="539.55" y="339.9" text-anchor="middle" textLength="73.4" lengthAdjust="spacingAndGlyphs">hartman6</text>
<rect x="559.9" y="356.1" width="105.6" height="36.2" fill="#fff" stroke="#262626" stroke-width="1"/>
<path d="M566 366.7h56.6" stroke="#0072BD" stroke-width="1.9" fill="none"/>
<path d="M566 382.1h56.6" stroke="#D95319" stroke-width="1.9" fill="none"/>
<text class="l" x="626.6" y="370.1">BO</text>
<text class="l" x="626.6" y="385.5">GLIS</text>
</g>
<clipPath id="c6"><rect x="39.7" y="511.3" width="275.9" height="110.1"/></clipPath>
<g>
<path d="M98.13 511.9V620M170.42 511.9V620M242.71 511.9V620M315 511.9V620M40.3 620H315M40.3 583.97H315M40.3 547.93H315M40.3 511.9H315" stroke="#000" stroke-opacity="0.13" stroke-width="1" fill="none"/>
<path d="M98.13 620v-2.8M98.13 511.9v2.8M170.42 620v-2.8M170.42 511.9v2.8M242.71 620v-2.8M242.71 511.9v2.8M40.3 583.97h2.8M315 583.97h-2.8M40.3 547.93h2.8M315 547.93h-2.8" stroke="#262626" stroke-width="1" fill="none"/>
<rect x="40.3" y="511.9" width="274.7" height="108.1" fill="none" stroke="#262626" stroke-width="1"/>
<g clip-path="url(#c6)">
<path d="M40.3 512.68 L54.76 563.16 L69.22 592.39 L83.67 601.99 L98.13 601.99 L112.59 601.99 L127.05 601.99 L141.51 608.53 L155.96 609.55 L170.42 613.23 L184.88 613.62 L199.34 614.64 L213.79 615.66 L228.25 615.66 L242.71 618.32 L257.17 619.6 L315 619.6" fill="none" stroke="#D95319" stroke-width="1.15" stroke-linejoin="round"/>
<path d="M40.3 619.9 L315 619.9" fill="none" stroke="#D95319" stroke-width="1.15" stroke-linejoin="round"/>
<path d="M40.3 532.5 L54.76 565.2 L69.22 588.3 L83.67 592.8 L98.13 604.04 L112.59 609.76 L127.05 609.76 L141.51 609.76 L155.96 609.76 L170.42 609.76 L184.88 609.53 L199.34 610.96 L213.79 611.37 L228.25 611.37 L242.71 613.42 L257.17 614.64 L271.63 614.64 L286.08 615.46 L300.54 617.71 L315 617.71" fill="none" stroke="#0072BD" stroke-width="1.15" stroke-linejoin="round"/>
<path d="M40.3 619.9 L315 619.9" fill="none" stroke="#0072BD" stroke-width="1.15" stroke-linejoin="round"/>
<path d="M40.3 532.5 L54.76 565.2 L69.22 588.3 L83.67 592.8 L98.13 604.04 L112.59 609.76 L127.05 609.76 L141.51 609.76 L155.96 609.76 L170.42 609.76 L184.88 609.53 L199.34 610.96 L213.79 611.37 L228.25 611.37 L242.71 613.42 L257.17 614.64 L271.63 614.64 L286.08 615.46 L300.54 617.71 L315 617.71 L315 619.9 L40.3 619.9Z" fill="#0072BD" fill-opacity="0.3" stroke="none"/>
<path d="M40.3 512.68 L54.76 563.16 L69.22 592.39 L83.67 601.99 L98.13 601.99 L112.59 601.99 L127.05 601.99 L141.51 608.53 L155.96 609.55 L170.42 613.23 L184.88 613.62 L199.34 614.64 L213.79 615.66 L228.25 615.66 L242.71 618.32 L257.17 619.6 L315 619.6 L315 619.9 L40.3 619.9Z" fill="#D95319" fill-opacity="0.3" stroke="none"/>
<path d="M40.3 619.9 L315 619.9" fill="none" stroke="#D95319" stroke-width="1.15"/>
<path d="M257.17 619.6 L315 619.6" fill="none" stroke="#D95319" stroke-width="1.15"/>
<path d="M40.3 619.9 L315 619.9" fill="none" stroke="#0072BD" stroke-width="1.15"/>
<path d="M40.3 608.53 L54.76 613.64 L69.22 614.87 L83.67 616.71 L98.13 618.34 L112.59 618.96 L127.05 619.16 L141.51 619.36 L155.96 619.36 L170.42 619.36 L228.25 619.2 L315 619.5" fill="none" stroke="#0072BD" stroke-width="2.2" stroke-linejoin="round"/>
<path d="M40.3 604.04 L54.76 614.26 L69.22 615.69 L83.67 616.3 L98.13 616.5 L112.59 616.71 L127.05 616.91 L141.51 617.32 L155.96 618.14 L170.42 618.96 L199.34 619 L228.25 619.3 L315 619.5" fill="none" stroke="#D95319" stroke-width="2.2" stroke-linejoin="round"/>
</g>
<text class="t" x="98.13" y="636.7" text-anchor="middle">5</text>
<text class="t" x="170.42" y="636.7" text-anchor="middle">10</text>
<text class="t" x="242.71" y="636.7" text-anchor="middle">15</text>
<text class="t" x="315" y="636.7" text-anchor="middle">20</text>
<text class="t" x="35.7" y="624.6" text-anchor="end">0</text>
<text class="t" x="35.7" y="588.57" text-anchor="end">500</text>
<text class="t" x="35.7" y="552.53" text-anchor="end">1000</text>
<text class="t" x="35.7" y="516.5" text-anchor="end">1500</text>
<text class="s" x="177.65" y="503.8" text-anchor="middle" textLength="89.5" lengthAdjust="spacingAndGlyphs">himmelblau</text>
<rect x="197.8" y="520" width="105.6" height="36.2" fill="#fff" stroke="#262626" stroke-width="1"/>
<path d="M203.9 530.6h56.6" stroke="#0072BD" stroke-width="1.9" fill="none"/>
<path d="M203.9 546h56.6" stroke="#D95319" stroke-width="1.9" fill="none"/>
<text class="l" x="264.5" y="534">BO</text>
<text class="l" x="264.5" y="549.4">GLIS</text>
</g>
<clipPath id="c7"><rect x="401.8" y="511.3" width="275.5" height="110.1"/></clipPath>
<g>
<path d="M468.37 511.9V620M537.81 511.9V620M607.26 511.9V620M676.7 511.9V620M402.4 620H676.7M402.4 583.97H676.7M402.4 547.93H676.7M402.4 511.9H676.7" stroke="#000" stroke-opacity="0.13" stroke-width="1" fill="none"/>
<path d="M468.37 620v-2.8M468.37 511.9v2.8M537.81 620v-2.8M537.81 511.9v2.8M607.26 620v-2.8M607.26 511.9v2.8M402.4 583.97h2.8M676.7 583.97h-2.8M402.4 547.93h2.8M676.7 547.93h-2.8" stroke="#262626" stroke-width="1" fill="none"/>
<rect x="402.4" y="511.9" width="274.3" height="108.1" fill="none" stroke="#262626" stroke-width="1"/>
<g clip-path="url(#c7)">
<path d="M402.4 528.44 L405.87 536.77 L409.34 558.29 L412.82 558.57 L416.29 576.34 L419.76 583.29 L423.23 583.57 L426.71 583.57 L430.18 583.57 L433.65 583.57 L437.12 583.57 L440.59 593.01 L444.07 593.29 L447.54 593.42 L451.01 600.23 L454.48 600.37 L457.95 600.64 L461.43 600.64 L464.9 600.92 L468.37 606.2 L471.84 608.98 L475.32 618 L478.79 619.39 L482.26 620.08 L676.7 620" fill="none" stroke="#D95319" stroke-width="1.15" stroke-linejoin="round"/>
<path d="M402.4 617.31 L405.87 618.7 L409.34 619.81 L412.82 620.08 L676.7 620" fill="none" stroke="#D95319" stroke-width="1.15" stroke-linejoin="round"/>
<path d="M402.4 515.94 L405.87 554.13 L409.34 557.6 L412.82 576.34 L416.29 577.04 L419.76 577.32 L423.23 584.68 L426.71 585.09 L430.18 587.45 L433.65 588.15 L437.12 588.15 L440.59 588.15 L444.07 588.15 L447.54 588.15 L451.01 588.15 L454.48 588.15 L457.95 588.15 L461.43 588.15 L464.9 590.23 L468.37 590.65 L471.84 592.31 L475.32 592.31 L478.79 592.31 L482.26 592.31 L485.73 592.31 L489.2 595.09 L492.68 597.59 L496.15 597.87 L506.56 597.9 L510.04 600.67 L513.51 603.45 L537.81 603.45 L541.29 604.83 L551.7 604.83 L555.17 608.99 L572.54 608.99 L576.01 617.31 L610.73 617.31 L614.2 618.7 L624.62 618.7 L628.09 619.81 L676.7 619.81" fill="none" stroke="#0072BD" stroke-width="1.15" stroke-linejoin="round"/>
<path d="M402.4 616.33 L405.87 616.33 L409.34 616.61 L412.82 618.14 L416.29 618.14 L419.76 618.14 L423.23 618.14 L426.71 618.14 L430.18 618.14 L433.65 618.14 L437.12 618.14 L440.59 618.14 L444.07 618.28 L447.54 618.56 L451.01 618.83 L454.48 619.11 L457.95 619.39 L461.43 619.67 L464.9 619.95 L468.37 620.08 L676.7 620" fill="none" stroke="#0072BD" stroke-width="1.15" stroke-linejoin="round"/>
<path d="M402.4 515.94 L405.87 554.13 L409.34 557.6 L412.82 576.34 L416.29 577.04 L419.76 577.32 L423.23 584.68 L426.71 585.09 L430.18 587.45 L433.65 588.15 L437.12 588.15 L440.59 588.15 L444.07 588.15 L447.54 588.15 L451.01 588.15 L454.48 588.15 L457.95 588.15 L461.43 588.15 L464.9 590.23 L468.37 590.65 L471.84 592.31 L475.32 592.31 L478.79 592.31 L482.26 592.31 L485.73 592.31 L489.2 595.09 L492.68 597.59 L496.15 597.87 L506.56 597.9 L510.04 600.67 L513.51 603.45 L537.81 603.45 L541.29 604.83 L551.7 604.83 L555.17 608.99 L572.54 608.99 L576.01 617.31 L610.73 617.31 L614.2 618.7 L624.62 618.7 L628.09 619.81 L676.7 619.81 L676.7 620 L468.37 620.08 L464.9 619.95 L461.43 619.67 L457.95 619.39 L454.48 619.11 L451.01 618.83 L447.54 618.56 L444.07 618.28 L440.59 618.14 L437.12 618.14 L433.65 618.14 L430.18 618.14 L426.71 618.14 L423.23 618.14 L419.76 618.14 L416.29 618.14 L412.82 618.14 L409.34 616.61 L405.87 616.33 L402.4 616.33Z" fill="#0072BD" fill-opacity="0.3" stroke="none"/>
<path d="M402.4 528.44 L405.87 536.77 L409.34 558.29 L412.82 558.57 L416.29 576.34 L419.76 583.29 L423.23 583.57 L426.71 583.57 L430.18 583.57 L433.65 583.57 L437.12 583.57 L440.59 593.01 L444.07 593.29 L447.54 593.42 L451.01 600.23 L454.48 600.37 L457.95 600.64 L461.43 600.64 L464.9 600.92 L468.37 606.2 L471.84 608.98 L475.32 618 L478.79 619.39 L482.26 620.08 L676.7 620 L676.7 620 L412.82 620.08 L409.34 619.81 L405.87 618.7 L402.4 617.31Z" fill="#D95319" fill-opacity="0.3" stroke="none"/>
<path d="M409.34 619.81 L412.82 620.08 L676.7 620" fill="none" stroke="#D95319" stroke-width="1.15"/>
<path d="M478.79 619.39 L482.26 620.08 L676.7 620" fill="none" stroke="#D95319" stroke-width="1.15"/>
<path d="M457.95 619.39 L461.43 619.67 L464.9 619.95 L468.37 620.08 L676.7 620" fill="none" stroke="#0072BD" stroke-width="1.15"/>
<path d="M628.09 619.81 L676.7 619.81" fill="none" stroke="#0072BD" stroke-width="1.15"/>
<path d="M402.4 577.73 L405.87 586.76 L409.34 595.09 L412.82 597.17 L416.29 598.98 L419.76 600.64 L423.23 602.03 L426.71 603.14 L430.18 604.53 L433.65 605.5 L437.12 605.92 L440.59 606.48 L444.07 607.17 L447.54 607.86 L451.01 608.28 L454.48 608.98 L457.95 609.67 L461.43 610.36 L464.9 611.06 L468.37 612.03 L471.84 613.14 L475.32 613.42 L478.79 613.84 L482.26 614.11 L485.73 614.53 L489.2 614.95 L492.68 615.5 L496.15 615.92 L510.04 617.31 L523.93 618.7 L530.87 619.53 L544.76 619.95 L676.7 619.95" fill="none" stroke="#0072BD" stroke-width="2.2" stroke-linejoin="round"/>
<path d="M402.4 581.2 L405.87 590.23 L409.34 597.87 L412.82 600.64 L416.29 602.73 L419.76 604.53 L423.23 605.92 L426.71 607.03 L430.18 608 L433.65 608.98 L437.12 609.67 L440.59 610.36 L444.07 610.78 L447.54 611.06 L451.01 611.34 L454.48 611.48 L457.95 611.75 L461.43 616.61 L464.9 619.81 L468.37 620.08 L676.7 619.9" fill="none" stroke="#D95319" stroke-width="2.2" stroke-linejoin="round"/>
</g>
<text class="t" x="468.37" y="636.7" text-anchor="middle">20</text>
<text class="t" x="537.81" y="636.7" text-anchor="middle">40</text>
<text class="t" x="607.26" y="636.7" text-anchor="middle">60</text>
<text class="t" x="676.7" y="636.7" text-anchor="middle">80</text>
<text class="t" x="397.8" y="624.6" text-anchor="end">0</text>
<text class="t" x="397.8" y="588.57" text-anchor="end">1</text>
<text class="t" x="397.8" y="552.53" text-anchor="end">2</text>
<text class="t" x="397.8" y="516.5" text-anchor="end">3</text>
<text class="t" x="403.2" y="509.7" style="font-size:19.5px">×</text>
<text class="t" x="415.7" y="507.2">10</text>
<text class="t" x="433.3" y="499.6" style="font-size:12.9px">8</text>
<text class="s" x="539.55" y="503.8" text-anchor="middle" textLength="91.2" lengthAdjust="spacingAndGlyphs">rosenbrock8</text>
<rect x="559.9" y="520" width="105.6" height="36.2" fill="#fff" stroke="#262626" stroke-width="1"/>
<path d="M566 530.6h56.6" stroke="#0072BD" stroke-width="1.9" fill="none"/>
<path d="M566 546h56.6" stroke="#D95319" stroke-width="1.9" fill="none"/>
<text class="l" x="626.6" y="534">BO</text>
<text class="l" x="626.6" y="549.4">GLIS</text>
</g>
<clipPath id="c8"><rect x="39.7" y="675.1" width="275.9" height="109.9"/></clipPath>
<g>
<path d="M86.08 675.7V783.6M143.31 675.7V783.6M200.54 675.7V783.6M257.77 675.7V783.6M315 675.7V783.6M40.3 783.6H315M40.3 729.65H315M40.3 675.7H315" stroke="#000" stroke-opacity="0.13" stroke-width="1" fill="none"/>
<path d="M86.08 783.6v-2.8M86.08 675.7v2.8M143.31 783.6v-2.8M143.31 675.7v2.8M200.54 783.6v-2.8M200.54 675.7v2.8M257.77 783.6v-2.8M257.77 675.7v2.8M40.3 729.65h2.8M315 729.65h-2.8" stroke="#262626" stroke-width="1" fill="none"/>
<rect x="40.3" y="675.7" width="274.7" height="107.9" fill="none" stroke="#262626" stroke-width="1"/>
<g clip-path="url(#c8)">
<path d="M40.3 784.27H315" stroke="#000" stroke-width="1.2" stroke-dasharray="8 3.5" fill="none"/>
<path d="M40.3 709.79 L51.75 726.14 L63.19 735.95 L74.64 744.94 L86.08 748.01 L97.53 755.16 L108.97 756.39 L120.42 756.39 L131.87 756.39 L143.31 756.39 L154.76 776.62 L166.2 777.85 L177.65 782.34 L189.1 783.57 L315 783.5" fill="none" stroke="#D95319" stroke-width="1.15" stroke-linejoin="round"/>
<path d="M40.3 781.93 L51.75 781.93 L63.19 781.93 L74.64 782.14 L86.08 782.14 L97.53 782.34 L108.97 782.34 L120.42 782.55 L131.87 782.55 L143.31 783.36 L154.76 783.77 L315 783.5" fill="none" stroke="#D95319" stroke-width="1.15" stroke-linejoin="round"/>
<path d="M40.3 691.39 L51.75 722.46 L63.19 722.66 L74.64 736.97 L86.08 740.04 L97.53 742.08 L108.97 749.64 L120.42 752.3 L131.87 752.3 L143.31 752.3 L154.76 754.34 L166.2 754.34 L177.65 754.34 L189.1 758 L200.54 758 L211.99 759.23 L223.43 759.23 L234.88 759.23 L246.32 759.23 L257.77 759.23 L269.22 767.2 L280.66 772.51 L292.11 777.01 L303.55 781.71 L315 783.96" fill="none" stroke="#0072BD" stroke-width="1.15" stroke-linejoin="round"/>
<path d="M40.3 783.25 L315 783.25" fill="none" stroke="#0072BD" stroke-width="1.15" stroke-linejoin="round"/>
<path d="M40.3 691.39 L51.75 722.46 L63.19 722.66 L74.64 736.97 L86.08 740.04 L97.53 742.08 L108.97 749.64 L120.42 752.3 L131.87 752.3 L143.31 752.3 L154.76 754.34 L166.2 754.34 L177.65 754.34 L189.1 758 L200.54 758 L211.99 759.23 L223.43 759.23 L234.88 759.23 L246.32 759.23 L257.77 759.23 L269.22 767.2 L280.66 772.51 L292.11 777.01 L303.55 781.71 L315 783.96 L315 783.25 L40.3 783.25Z" fill="#0072BD" fill-opacity="0.3" stroke="none"/>
<path d="M40.3 709.79 L51.75 726.14 L63.19 735.95 L74.64 744.94 L86.08 748.01 L97.53 755.16 L108.97 756.39 L120.42 756.39 L131.87 756.39 L143.31 756.39 L154.76 776.62 L166.2 777.85 L177.65 782.34 L189.1 783.57 L315 783.5 L315 783.5 L154.76 783.77 L143.31 783.36 L131.87 782.55 L120.42 782.55 L108.97 782.34 L97.53 782.34 L86.08 782.14 L74.64 782.14 L63.19 781.93 L51.75 781.93 L40.3 781.93Z" fill="#D95319" fill-opacity="0.3" stroke="none"/>
<path d="M143.31 783.36 L154.76 783.77 L315 783.5" fill="none" stroke="#D95319" stroke-width="1.15"/>
<path d="M189.1 783.57 L315 783.5" fill="none" stroke="#D95319" stroke-width="1.15"/>
<path d="M40.3 783.25 L315 783.25" fill="none" stroke="#0072BD" stroke-width="1.15"/>
<path d="M40.3 740.45 L51.75 754.75 L63.19 758.23 L74.64 760.88 L86.08 762.31 L97.53 764.15 L108.97 766.61 L120.42 767.01 L131.87 767.42 L143.31 768.24 L154.76 769.26 L166.2 771.1 L177.65 773.15 L189.1 774.15 L200.54 775.99 L211.99 779.05 L223.43 781.09 L234.88 782.53 L246.32 783.14 L257.77 783.55 L269.22 783.75 L315 783.5" fill="none" stroke="#0072BD" stroke-width="2.2" stroke-linejoin="round"/>
<path d="M40.3 750.26 L51.75 756.8 L63.19 761.29 L74.64 767.01 L86.08 767.01 L97.53 767.42 L108.97 768.65 L120.42 769.26 L131.87 769.26 L143.31 781.93 L154.76 783.36 L166.2 783.77 L315 783.5" fill="none" stroke="#D95319" stroke-width="2.2" stroke-linejoin="round"/>
</g>
<text class="t" x="86.08" y="800.3" text-anchor="middle">5</text>
<text class="t" x="143.31" y="800.3" text-anchor="middle">10</text>
<text class="t" x="200.54" y="800.3" text-anchor="middle">15</text>
<text class="t" x="257.77" y="800.3" text-anchor="middle">20</text>
<text class="t" x="315" y="800.3" text-anchor="middle">25</text>
<text class="t" x="35.7" y="788.2" text-anchor="end">0</text>
<text class="t" x="35.7" y="734.25" text-anchor="end">2</text>
<text class="t" x="35.7" y="680.3" text-anchor="end">4</text>
<text class="t" x="41.1" y="673.5" style="font-size:19.5px">×</text>
<text class="t" x="53.6" y="671">10</text>
<text class="t" x="71.2" y="663.4" style="font-size:12.9px">4</text>
<text class="s" x="177.65" y="667.6" text-anchor="middle" textLength="103.4" lengthAdjust="spacingAndGlyphs">stepfunction2</text>
<rect x="197.8" y="683.8" width="105.6" height="36.2" fill="#fff" stroke="#262626" stroke-width="1"/>
<path d="M203.9 694.4h56.6" stroke="#0072BD" stroke-width="1.9" fill="none"/>
<path d="M203.9 709.8h56.6" stroke="#D95319" stroke-width="1.9" fill="none"/>
<text class="l" x="264.5" y="697.8">BO</text>
<text class="l" x="264.5" y="713.2">GLIS</text>
</g>
<clipPath id="c9"><rect x="401.8" y="675.1" width="275.5" height="109.9"/></clipPath>
<g>
<path d="M444.24 675.7V783.6M490.73 675.7V783.6M537.23 675.7V783.6M583.72 675.7V783.6M630.21 675.7V783.6M676.7 675.7V783.6M402.4 783.6H676.7M402.4 738.6H676.7M402.4 693.61H676.7" stroke="#000" stroke-opacity="0.13" stroke-width="1" fill="none"/>
<path d="M444.24 783.6v-2.8M444.24 675.7v2.8M490.73 783.6v-2.8M490.73 675.7v2.8M537.23 783.6v-2.8M537.23 675.7v2.8M583.72 783.6v-2.8M583.72 675.7v2.8M630.21 783.6v-2.8M630.21 675.7v2.8M402.4 738.6h2.8M676.7 738.6h-2.8M402.4 693.61h2.8M676.7 693.61h-2.8" stroke="#262626" stroke-width="1" fill="none"/>
<rect x="402.4" y="675.7" width="274.3" height="107.9" fill="none" stroke="#262626" stroke-width="1"/>
<g clip-path="url(#c9)">
<path d="M402.4 782.81H676.7" stroke="#000" stroke-width="1.2" stroke-dasharray="8 3.5" fill="none"/>
<path d="M402.4 698.69 L407.05 722.29 L411.7 736.18 L416.35 738.96 L421 744.51 L425.65 744.93 L430.29 752.43 L434.94 753.12 L439.59 753.54 L444.24 755.62 L490.73 755.62 L527.93 755.44 L532.58 756.61 L537.23 757.19 L541.87 756.61 L546.52 756.61 L551.17 757.92 L583.72 757.92 L597.66 757.92 L602.31 762.01 L634.86 762.01 L639.51 763.03 L658.1 763.47 L662.75 764.93 L667.4 765.66 L672.05 767.12 L676.7 767.41" fill="none" stroke="#D95319" stroke-width="1.15" stroke-linejoin="round"/>
<path d="M402.4 770.89 L407.05 772.28 L411.7 772.7 L416.35 775.06 L421 775.06 L425.65 775.06 L430.29 775.06 L434.94 775.06 L439.59 775.06 L444.24 775.06 L448.89 775.06 L453.54 775.06 L458.19 776.03 L462.84 776.17 L490.73 776.17 L495.38 775.58 L509.33 775.88 L537.23 776.02 L541.87 778.07 L565.12 778.36 L569.77 778.8 L574.42 779.53 L579.07 780.99 L588.37 781.42 L593.02 782.74 L676.7 782.88" fill="none" stroke="#D95319" stroke-width="1.15" stroke-linejoin="round"/>
<path d="M402.4 675.5 L407.05 720.21 L411.7 725.49 L416.35 725.49 L421 725.49 L425.65 726.88 L430.29 746.59 L434.94 746.59 L439.59 749.09 L444.24 749.09 L448.89 749.09 L453.54 749.09 L458.19 749.09 L462.84 749.09 L467.49 749.09 L472.14 749.09 L476.79 749.37 L481.44 753.81 L486.08 753.81 L490.73 753.81 L500.03 753.54 L504.68 754.27 L532.58 754.27 L537.23 757.19 L551.17 757.63 L555.82 757.92 L560.47 758.36 L569.77 758.8 L574.42 760.11 L597.66 760.11 L602.31 760.55 L616.26 760.55 L620.91 763.03 L625.56 763.18 L676.7 763.18" fill="none" stroke="#0072BD" stroke-width="1.15" stroke-linejoin="round"/>
<path d="M402.4 772.28 L407.05 775.75 L411.7 775.75 L416.35 775.75 L421 775.75 L425.65 775.75 L430.29 775.75 L434.94 775.75 L439.59 775.75 L444.24 775.75 L448.89 775.75 L453.54 775.75 L458.19 776.45 L462.84 777.14 L467.49 777.14 L472.14 777.14 L476.79 777.84 L481.44 778.53 L486.08 778.53 L490.73 778.53 L500.03 778.5 L504.68 780.55 L532.58 780.99 L565.12 781.72 L574.42 782.59 L588.37 782.74 L676.7 782.88" fill="none" stroke="#0072BD" stroke-width="1.15" stroke-linejoin="round"/>
<path d="M402.4 675.5 L407.05 720.21 L411.7 725.49 L416.35 725.49 L421 725.49 L425.65 726.88 L430.29 746.59 L434.94 746.59 L439.59 749.09 L444.24 749.09 L448.89 749.09 L453.54 749.09 L458.19 749.09 L462.84 749.09 L467.49 749.09 L472.14 749.09 L476.79 749.37 L481.44 753.81 L486.08 753.81 L490.73 753.81 L500.03 753.54 L504.68 754.27 L532.58 754.27 L537.23 757.19 L551.17 757.63 L555.82 757.92 L560.47 758.36 L569.77 758.8 L574.42 760.11 L597.66 760.11 L602.31 760.55 L616.26 760.55 L620.91 763.03 L625.56 763.18 L676.7 763.18 L676.7 782.88 L588.37 782.74 L574.42 782.59 L565.12 781.72 L532.58 780.99 L504.68 780.55 L500.03 778.5 L490.73 778.53 L486.08 778.53 L481.44 778.53 L476.79 777.84 L472.14 777.14 L467.49 777.14 L462.84 777.14 L458.19 776.45 L453.54 775.75 L448.89 775.75 L444.24 775.75 L439.59 775.75 L434.94 775.75 L430.29 775.75 L425.65 775.75 L421 775.75 L416.35 775.75 L411.7 775.75 L407.05 775.75 L402.4 772.28Z" fill="#0072BD" fill-opacity="0.3" stroke="none"/>
<path d="M402.4 698.69 L407.05 722.29 L411.7 736.18 L416.35 738.96 L421 744.51 L425.65 744.93 L430.29 752.43 L434.94 753.12 L439.59 753.54 L444.24 755.62 L490.73 755.62 L527.93 755.44 L532.58 756.61 L537.23 757.19 L541.87 756.61 L546.52 756.61 L551.17 757.92 L583.72 757.92 L597.66 757.92 L602.31 762.01 L634.86 762.01 L639.51 763.03 L658.1 763.47 L662.75 764.93 L667.4 765.66 L672.05 767.12 L676.7 767.41 L676.7 782.88 L593.02 782.74 L588.37 781.42 L579.07 780.99 L574.42 779.53 L569.77 778.8 L565.12 778.36 L541.87 778.07 L537.23 776.02 L509.33 775.88 L495.38 775.58 L490.73 776.17 L462.84 776.17 L458.19 776.03 L453.54 775.06 L448.89 775.06 L444.24 775.06 L439.59 775.06 L434.94 775.06 L430.29 775.06 L425.65 775.06 L421 775.06 L416.35 775.06 L411.7 772.7 L407.05 772.28 L402.4 770.89Z" fill="#D95319" fill-opacity="0.3" stroke="none"/>
<path d="M402.4 743.82 L407.05 751.45 L411.7 756.04 L416.35 758.4 L421 759.78 L425.65 760.48 L430.29 760.9 L434.94 761.59 L439.59 762.56 L444.24 763.95 L448.89 764.64 L453.54 764.92 L458.19 765.06 L462.84 765.2 L467.49 765.48 L472.14 766.31 L476.79 767 L481.44 767.28 L486.08 767.56 L490.73 767.84 L500.03 767.41 L513.98 768.28 L527.93 769.01 L537.23 769.45 L551.17 769.74 L565.12 770.04 L574.42 770.47 L583.72 771.2 L593.02 771.79 L602.31 772.52 L611.61 772.96 L620.91 773.25 L630.21 773.54 L639.51 773.69 L648.81 773.98 L658.1 774.42 L667.4 774.71 L676.7 774.85" fill="none" stroke="#0072BD" stroke-width="2.2" stroke-linejoin="round"/>
<path d="M402.4 748.68 L407.05 753.54 L411.7 757.01 L416.35 759.78 L421 761.17 L425.65 762.14 L430.29 762.84 L434.94 763.39 L439.59 763.81 L444.24 764.09 L448.89 764.23 L453.54 764.23 L458.19 764.23 L462.84 764.23 L467.49 764.23 L472.14 764.23 L476.79 764.23 L481.44 764.23 L486.08 764.23 L490.73 764.23 L504.68 764.2 L513.98 764.64 L523.28 765.36 L532.58 766.24 L541.87 766.82 L551.17 767.41 L560.47 768.14 L569.77 768.72 L579.07 769.45 L583.72 769.74 L593.02 770.77 L602.31 772.23 L611.61 772.96 L620.91 773.69 L630.21 774.42 L639.51 775.15 L648.81 775.88 L658.1 776.31 L667.4 776.61 L676.7 776.9" fill="none" stroke="#D95319" stroke-width="2.2" stroke-linejoin="round"/>
</g>
<text class="t" x="444.24" y="800.3" text-anchor="middle">10</text>
<text class="t" x="490.73" y="800.3" text-anchor="middle">20</text>
<text class="t" x="537.23" y="800.3" text-anchor="middle">30</text>
<text class="t" x="583.72" y="800.3" text-anchor="middle">40</text>
<text class="t" x="630.21" y="800.3" text-anchor="middle">50</text>
<text class="t" x="676.7" y="800.3" text-anchor="middle">60</text>
<text class="t" x="397.8" y="788.2" text-anchor="end">-200</text>
<text class="t" x="397.8" y="743.2" text-anchor="end">0</text>
<text class="t" x="397.8" y="698.21" text-anchor="end">200</text>
<text class="s" x="539.55" y="667.6" text-anchor="middle" textLength="121.1" lengthAdjust="spacingAndGlyphs">styblinski-tang5</text>
<rect x="559.9" y="683.8" width="105.6" height="36.2" fill="#fff" stroke="#262626" stroke-width="1"/>
<path d="M566 694.4h56.6" stroke="#0072BD" stroke-width="1.9" fill="none"/>
<path d="M566 709.8h56.6" stroke="#D95319" stroke-width="1.9" fill="none"/>
<text class="l" x="626.6" y="697.8">BO</text>
<text class="l" x="626.6" y="713.2">GLIS</text>
</g>
<text class="x" x="178.45" y="820.8" text-anchor="middle" textLength="240" lengthAdjust="spacingAndGlyphs">number of function evaluations</text>
<text class="x" x="540.35" y="820.8" text-anchor="middle" textLength="240" lengthAdjust="spacingAndGlyphs">number of function evaluations</text>
</svg></body></html>
